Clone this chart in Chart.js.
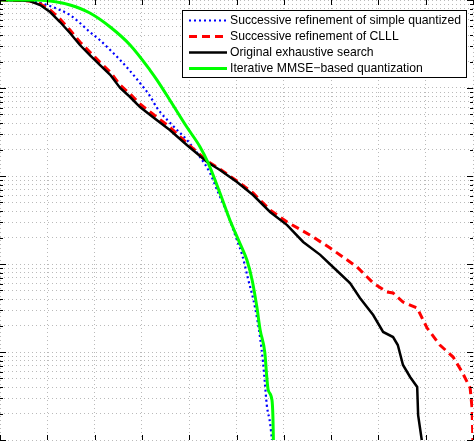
<!DOCTYPE html>
<html><head><meta charset="utf-8">
<script src="https://cdn.jsdelivr.net/npm/chart.js@4/dist/chart.umd.min.js"></script>
<style>html,body{margin:0;padding:0;background:#fff;overflow:hidden}</style>
</head><body>
<canvas id="c" width="474" height="441"></canvas>
<script>
// Series labels
const seriesNames = [
  "Successive refinement of simple quantized",
  "Successive refinement of CLLL",
  "Original exhaustive search",
  "Iterative MMSE\u2212based quantization"
];
// Blue dotted: successive refinement of simple quantized
const blueX = [0,0.42,0.63,0.85,1.27,1.48,1.69,1.90,2.11,2.33,2.54,2.75,2.96,3.17,3.32,3.66,3.95,4.23,4.44,4.59,4.80,5.01,5.12,5.24,5.39,5.50,5.56,5.60,5.64,5.71,5.75];
const blueY = [1,0.992,0.974,0.925,0.770,0.675,0.548,0.433,0.351,0.270,0.208,0.156,0.114,0.0811,0.0593,0.0370,0.0257,0.0164,0.0108,0.00693,0.0038,0.00187,0.00127,0.000693,0.000325,0.000144,0.000077,0.0000444,0.000025,0.0000156,0.00001];
// Red dashed: successive refinement of CLLL
const redX = [0,0.42,0.63,0.85,1.06,1.27,1.48,1.69,1.90,2.11,2.33,2.54,2.75,2.96,3.23,3.59,3.95,4.38,4.65,5.01,5.35,5.71,6.07,6.55,6.98,7.55,7.89,8.18,8.31,8.52,8.82,9.03,9.30,9.58,9.77,9.94,9.98,10];
const redY = [1,0.987,0.974,0.901,0.770,0.608,0.456,0.333,0.256,0.197,0.152,0.108,0.0855,0.0658,0.0506,0.0360,0.0237,0.0148,0.0120,0.00877,0.00641,0.00411,0.00300,0.00214,0.00152,0.000924,0.000608,0.000481,0.000468,0.000370,0.000316,0.000187,0.000120,0.0000877,0.0000592,0.0000390,0.0000231,0.000009];
// Black solid: original exhaustive search
const blackX = [0,0.42,0.63,0.85,1.06,1.27,1.48,1.69,1.90,2.11,2.33,2.54,2.75,2.96,3.23,3.59,3.95,4.38,4.65,5.01,5.35,5.71,6.07,6.41,6.77,7.04,7.40,7.61,7.89,8.10,8.31,8.41,8.52,8.67,8.82,8.84,8.92];
const blackY = [1,0.987,0.974,0.877,0.730,0.562,0.422,0.308,0.237,0.183,0.141,0.100,0.0790,0.0608,0.0468,0.0333,0.0225,0.0144,0.0117,0.00855,0.00608,0.00390,0.00277,0.00178,0.00127,0.000924,0.000608,0.000411,0.000263,0.000169,0.000148,0.000120,0.0000712,0.0000520,0.0000400,0.0000192,0.0000097];
// Green solid: iterative MMSE-based quantization
const greenX = [0,0.70,1.06,1.48,1.90,2.33,2.75,3.17,3.32,3.59,3.95,4.23,4.40,4.65,4.86,5.07,5.22,5.33,5.43,5.50,5.60,5.64,5.67,5.75,5.77,5.78];
const greenY = [1,1,0.974,0.877,0.711,0.493,0.308,0.160,0.123,0.0731,0.0360,0.0214,0.0141,0.00641,0.00316,0.00173,0.00111,0.000658,0.000326,0.000178,0.0000975,0.0000520,0.0000370,0.0000285,0.0000183,0.00001];

// Axis ranges
const xMin = 0, xMax = 10, xStep = 1;
const yMin = 1e-5, yMax = 1;

function pts(xs, ys){ return xs.map((x,i)=>({x:x, y:ys[i]})); }

// log-axis tick values (1..9 x 10^k)
const yTickValues = [];
for (let e = Math.round(Math.log10(yMin)); e <= Math.round(Math.log10(yMax)); e++) {
  for (let m = 1; m <= 9; m++) {
    const v = m * Math.pow(10, e);
    if (v >= yMin*0.999 && v <= yMax*1.001) yTickValues.push(v);
  }
}

const gridColor = 'rgba(140,140,140,0.6)';

const axisTicks = {
  id: 'axisTicks',
  afterDatasetsDraw(chart){
    const {ctx, chartArea:a, scales:{x, y}} = chart;
    ctx.save();
    ctx.strokeStyle = '#000'; ctx.lineWidth = 1;
    const ln = (x1,y1,x2,y2)=>{ctx.beginPath();ctx.moveTo(x1,y1);ctx.lineTo(x2,y2);ctx.stroke();};
    y.ticks.forEach(t=>{
      const p = Math.round(y.getPixelForValue(t.value)) + 0.5;
      const lg = Math.log10(t.value);
      const major = Math.abs(lg - Math.round(lg)) < 1e-9;
      const len = major ? 6 : 3;
      ln(a.left, p, a.left+len, p);
      ln(a.right-len, p, a.right, p);
    });
    x.ticks.forEach(t=>{
      const p = Math.round(x.getPixelForValue(t.value)) + 0.5;
      ln(p, a.top, p, a.top+5);
      ln(p, a.bottom-5, p, a.bottom);
    });
    ctx.restore();
  }
};

const boxLegend = {
  id: 'boxLegend',
  afterDraw(chart){
    const ctx = chart.ctx;
    const bx = 182, by = 10, bw = 284, bh = 67;
    ctx.save();
    ctx.fillStyle = '#fff';
    ctx.fillRect(bx, by, bw, bh);
    ctx.strokeStyle = '#000'; ctx.lineWidth = 1;
    ctx.strokeRect(bx+0.5, by+0.5, bw, bh);
    ctx.font = '12.2px "Liberation Sans", Arial, Helvetica, sans-serif';
    ctx.textBaseline = 'middle';
    chart.data.datasets.forEach((ds, i)=>{
      const cy = by + 10.5 + i*16;
      ctx.beginPath();
      ctx.strokeStyle = ds.borderColor;
      ctx.lineWidth = ds.borderWidth;
      ctx.setLineDash(ds.borderDash || []);
      ctx.lineCap = 'butt';
      ctx.moveTo(189, cy); ctx.lineTo(227, cy);
      ctx.stroke();
      ctx.setLineDash([]);
      ctx.fillStyle = '#000';
      ctx.fillText(ds.label, 230, cy);
    });
    ctx.restore();
  }
};

const common = {pointRadius:0, pointHoverRadius:0, fill:false, borderCapStyle:'butt'};

new Chart(document.getElementById('c'), {
  type: 'line',
  data: {
    datasets: [
      Object.assign({label: seriesNames[0], data: pts(blueX, blueY), borderColor:'#0000ff', borderWidth:2.2, borderDash:[2,3], order:4, cubicInterpolationMode:'monotone'}, common),
      Object.assign({label: seriesNames[1], data: pts(redX, redY), borderColor:'#ff0000', borderWidth:3, borderDash:[8,5], order:3, tension:0}, common),
      Object.assign({label: seriesNames[2], data: pts(blackX, blackY), borderColor:'#000000', borderWidth:2.5, order:2, tension:0}, common),
      Object.assign({label: seriesNames[3], data: pts(greenX, greenY), borderColor:'#00ff00', borderWidth:3, order:1, cubicInterpolationMode:'monotone'}, common)
    ]
  },
  options: {
    responsive: false,
    animation: false,
    devicePixelRatio: 1,
    layout: {padding: {left:0, top:0, right:1, bottom:1}},
    plugins: {legend: {display:false}, tooltip: {enabled:false}},
    scales: {
      x: {
        type: 'linear', min: xMin, max: xMax,
        ticks: {display:false, stepSize: xStep},
        grid: {color: gridColor, lineWidth: 1, drawTicks: false},
        border: {display: false, dash: [1,3]}
      },
      y: {
        type: 'logarithmic', min: yMin, max: yMax,
        ticks: {display:false},
        afterBuildTicks: (s)=>{ s.ticks = yTickValues.map(v=>({value:v})); },
        grid: {color: gridColor, lineWidth: 1, drawTicks: false},
        border: {display: false, dash: [1,3]}
      }
    }
  },
  plugins: [axisTicks, boxLegend]
});
</script>
</body></html>
